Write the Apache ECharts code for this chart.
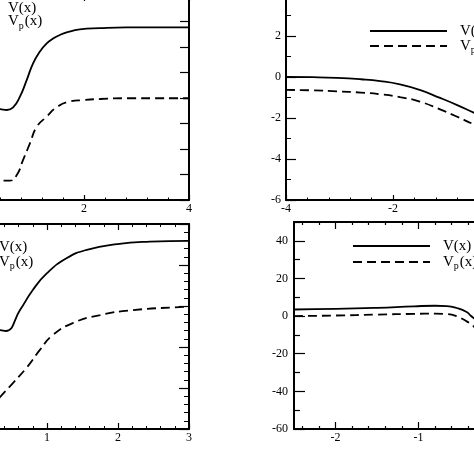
<!DOCTYPE html>
<html><head><meta charset="utf-8">
<script src="https://cdn.jsdelivr.net/npm/echarts@6/dist/echarts.min.js"></script>
<style>html,body{margin:0;padding:0;background:#fff}#c{width:474px;height:474px}</style>
</head><body><div id="c"></div>
<script>
// ---- data ----
const seriesNames = ['V(x)', 'Vp(x)'];
// panel 1 (top-left)
const p1VX  = [0.2, 0.4, 0.53, 0.65, 0.78, 0.91, 1.03, 1.16, 1.29, 1.42, 1.54, 1.67, 1.92, 2.3, 2.8, 4.0];
const p1VY  = [3.58, 3.56, 3.53, 3.63, 4.05, 4.71, 5.36, 5.82, 6.14, 6.34, 6.47, 6.57, 6.69, 6.74, 6.77, 6.77];
const p1VpX = [0.2, 0.4, 0.59, 0.72, 0.84, 0.97, 1.10, 1.29, 1.48, 1.73, 1.99, 2.3, 2.8, 4.0];
const p1VpY = [0.77, 0.76, 0.76, 0.98, 1.57, 2.22, 2.87, 3.27, 3.64, 3.86, 3.92, 3.96, 3.99, 3.99];
// panel 2 (top-right)
const p2VX  = [-4, -3.5, -3.05, -2.6, -2.24, -1.87, -1.5, -1.12, -0.8, -0.49, -0.3];
const p2VY  = [0, -0.01, -0.04, -0.11, -0.2, -0.36, -0.63, -1.02, -1.37, -1.74, -1.96];
const p2VpX = [-4, -3.5, -3.05, -2.6, -2.24, -1.87, -1.5, -1.12, -0.8, -0.49, -0.3];
const p2VpY = [-0.63, -0.65, -0.70, -0.76, -0.84, -0.98, -1.20, -1.58, -1.94, -2.31, -2.52];
// panel 3 (bottom-left)
const p3VX  = [0.2, 0.34, 0.42, 0.62, 0.80, 1.0, 1.28, 1.56, 1.99, 2.45, 3.0];
const p3VY  = [2.43, 2.41, 2.39, 2.90, 3.39, 3.80, 4.17, 4.37, 4.51, 4.57, 4.59];
const p3VpX = [0.2, 0.34, 0.52, 0.72, 0.90, 1.08, 1.37, 1.75, 2.21, 2.92, 3.0];
const p3VpY = [0.5, 0.78, 1.12, 1.51, 1.93, 2.29, 2.59, 2.78, 2.90, 2.98, 2.99];
// panel 4 (bottom-right)
const p4VX  = [-2.5, -2.0, -1.5, -1.05, -0.8, -0.66, -0.54, -0.42, -0.37, -0.33, -0.25];
const p4VY  = [3.5, 3.8, 4.4, 5.2, 5.5, 5.3, 4.3, 2.2, 0.2, -1.2, -5];
const p4VpX = [-2.5, -2.0, -1.5, -1.05, -0.8, -0.66, -0.54, -0.42, -0.37, -0.33, -0.25];
const p4VpY = [0.0, 0.3, 0.8, 1.2, 1.3, 1.1, -0.1, -2.8, -4.2, -5.7, -10];
// tick values for panel 4
const p4XMajor = [-2, -1];
const p4XMinor = [-2.4, -2.2, -1.8, -1.6, -1.4, -1.2, -0.8, -0.6, -0.4, -0.2];
const p4YMajor = [-60, -40, -20, 0, 20, 40];
const p4YMinor = [-50, -30, -10, 10, 30, 50];

const FONT = 'Liberation Serif';
const zip = (xs, ys) => xs.map((x, i) => [x, ys[i]]);

function mk(gi, position, o) {
  const a = {
    type: 'value', gridIndex: gi, position: position, min: o.min, max: o.max,
    axisLine: { show: o.line !== false, onZero: false, lineStyle: { color: '#000', width: 2 } },
    axisTick: { show: true, inside: true, length: o.tick, lineStyle: { color: '#000', width: 1.2 } },
    minorTick: { show: !!o.minor, splitNumber: o.minor || 5, length: o.minorLen || 3, lineStyle: { color: '#000', width: 1 } },
    axisLabel: { show: !!o.label, margin: o.margin || 4, color: '#000', fontFamily: FONT, fontSize: 12 },
    splitLine: { show: false }
  };
  if (o.interval != null) a.interval = o.interval;
  if (o.tickValues) a.axisTick.customValues = o.tickValues;
  if (o.labelValues) a.axisLabel.customValues = o.labelValues;
  return a;
}
const xAxes = [], yAxes = [];
const ax = (arr, gi, pos, o) => { arr.push(mk(gi, pos, o)); return arr.length - 1; };

// grid 1
const g1x = ax(xAxes, 0, 'bottom', { min: 0, max: 4, interval: 2, minor: 5, tick: 5, minorLen: 2.5, label: true, margin: 3 });
ax(xAxes, 0, 'top', { min: 0, max: 4, interval: 2, minor: 5, tick: 5, minorLen: 2.5 });
const g1y = ax(yAxes, 0, 'left', { min: 0, max: 8, interval: 1, tick: 9, label: true });
ax(yAxes, 0, 'right', { min: 0, max: 8, interval: 1, tick: 9 });
// grid 2
const g2x = ax(xAxes, 1, 'bottom', { min: -4, max: 0, interval: 2, minor: 5, tick: 5, minorLen: 2.5, label: true, margin: 3 });
ax(xAxes, 1, 'top', { min: -4, max: 0, interval: 2, minor: 5, tick: 5, minorLen: 2.5 });
const g2y = ax(yAxes, 1, 'left', { min: -6, max: 4, interval: 2, minor: 2, tick: 10, minorLen: 5, label: true, margin: 5 });
ax(yAxes, 1, 'right', { min: -6, max: 4, interval: 2, minor: 2, tick: 10, minorLen: 5 });
// grid 3
const g3x = ax(xAxes, 2, 'bottom', { min: 0, max: 3, interval: 1, minor: 5, tick: 6, minorLen: 3, label: true, margin: 3 });
ax(xAxes, 2, 'top', { min: 0, max: 3, interval: 1, minor: 5, tick: 6, minorLen: 3 });
const g3y = ax(yAxes, 2, 'left', { min: 0, max: 5, interval: 1, minor: 5, tick: 10, minorLen: 5, label: true });
ax(yAxes, 2, 'right', { min: 0, max: 5, interval: 1, minor: 5, tick: 10, minorLen: 5 });
// grid 4
const g4x = ax(xAxes, 3, 'bottom', { min: -2.5, max: 0, tick: 7, tickValues: p4XMajor, labelValues: p4XMajor, label: true, margin: 3 });
ax(xAxes, 3, 'bottom', { min: -2.5, max: 0, tick: 3, tickValues: p4XMinor, line: false });
ax(xAxes, 3, 'top', { min: -2.5, max: 0, tick: 7, tickValues: p4XMajor });
ax(xAxes, 3, 'top', { min: -2.5, max: 0, tick: 3, tickValues: p4XMinor, line: false });
const g4y = ax(yAxes, 3, 'left', { min: -60, max: 50, tick: 11, tickValues: p4YMajor, labelValues: p4YMajor, label: true, margin: 6 });
ax(yAxes, 3, 'left', { min: -60, max: 50, tick: 6, tickValues: p4YMinor, line: false });
ax(yAxes, 3, 'right', { min: -60, max: 50, tick: 11, tickValues: p4YMajor });
ax(yAxes, 3, 'right', { min: -60, max: 50, tick: 6, tickValues: p4YMinor, line: false });

function line(name, xi, yi, data, dashed) {
  return {
    name: name, type: 'line', xAxisIndex: xi, yAxisIndex: yi, data: data,
    symbol: 'none', showSymbol: false, smooth: 0.5, clip: true,
    lineStyle: { color: '#000', width: 1.8, type: dashed ? [9, 5] : 'solid' },
    itemStyle: { color: '#000' }
  };
}
const series = [
  line(seriesNames[0], g1x, g1y, zip(p1VX, p1VY), false),
  line(seriesNames[1], g1x, g1y, zip(p1VpX, p1VpY), true),
  line(seriesNames[0], g2x, g2y, zip(p2VX, p2VY), false),
  line(seriesNames[1], g2x, g2y, zip(p2VpX, p2VpY), true),
  line(seriesNames[0], g3x, g3y, zip(p3VX, p3VY), false),
  line(seriesNames[1], g3x, g3y, zip(p3VpX, p3VpY), true),
  line(seriesNames[0], g4x, g4y, zip(p4VX, p4VY), false),
  line(seriesNames[1], g4x, g4y, zip(p4VpX, p4VpY), true)
];

// one legend entry per legend component, so each row can be placed exactly
function legend(name, left, top) {
  return {
    orient: 'vertical', left: left, top: top, padding: 0, itemWidth: 77, itemHeight: 14, itemGap: 0,
    selectedMode: false, data: [name],
    itemStyle: { opacity: 0 },
    formatter: n => n === 'Vp(x)' ? '{g|}V{p|p}(x)' : '{g|}V(x)',
    textStyle: {
      fontFamily: FONT, fontSize: 15, color: '#000',
      rich: {
        g: { width: 8 },
        p: { fontFamily: FONT, fontSize: 10, color: '#000', padding: [9, 1, 0, 0] }
      }
    }
  };
}

const chart = echarts.init(document.getElementById('c'), null, { renderer: 'canvas' });
chart.setOption({
  backgroundColor: '#fff',
  animation: false,
  grid: [
    { left: -21, top: -4, width: 210, height: 204, outerBoundsMode: 'none' },
    { left: 286, top: -5, width: 214, height: 205, outerBoundsMode: 'none' },
    { left: -24, top: 224, width: 213, height: 205, outerBoundsMode: 'none' },
    { left: 294, top: 222, width: 207.5, height: 207, outerBoundsMode: 'none' }
  ],
  legend: [
    legend(seriesNames[0], -83, 1), legend(seriesNames[1], -83, 14),
    legend(seriesNames[0], 369, 23.5), legend(seriesNames[1], 369, 38.5),
    legend(seriesNames[0], -92, 239.5), legend(seriesNames[1], -92, 254.5),
    legend(seriesNames[0], 352, 238.5), legend(seriesNames[1], 352, 254.5)
  ],
  xAxis: xAxes,
  yAxis: yAxes,
  series: series
});
</script></body></html>
